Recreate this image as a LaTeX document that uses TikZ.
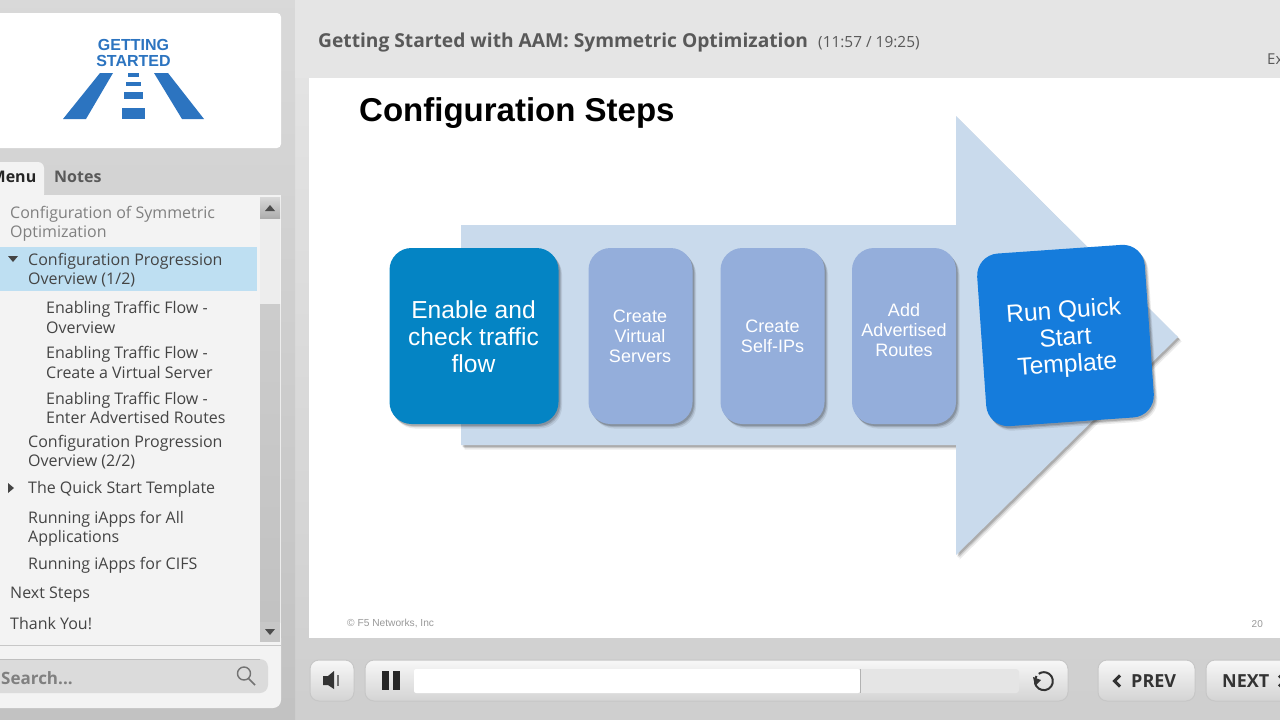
\documentclass[tikz,border=0pt]{standalone}
\usepackage{fontspec}
\setmainfont{Liberation Sans}
\newfontfamily\uifont{Open Sans}
\usetikzlibrary{shadows}
\definecolor{arrowblue}{HTML}{C9DAEC}
\definecolor{stepdeep}{HTML}{0484C4}
\definecolor{steppale}{HTML}{94AEDB}
\definecolor{stepbright}{HTML}{157CDC}
\definecolor{logoblue}{HTML}{2C74C0}
\definecolor{menutext}{HTML}{444444}
\definecolor{menupanel}{HTML}{F3F3F3}
\definecolor{menurow}{HTML}{BEDFF2}
\begin{document}
\begin{tikzpicture}[x=1pt,y=-1pt]
	\tikzset{>=latex}
	\tikzset{softshadow/.style={drop shadow={shadow xshift=3.5pt,shadow yshift=-4.5pt,opacity=0.08,fill=black},drop shadow={shadow xshift=2.5pt,shadow yshift=-3pt,opacity=0.12,fill=black},drop shadow={shadow xshift=1.5pt,shadow yshift=-2pt,opacity=0.16,fill=black}}}
	\tikzset{stepbox/.style={rectangle,rounded corners=22pt,inner sep=0pt,softshadow}}
	\tikzset{smallstep/.style={stepbox,fill=steppale,minimum width=104pt,minimum height=176pt}}
	\tikzset{steptext/.style={inner sep=0pt,text=white,align=center,font=\fontsize{18}{20}\selectfont}}
	\tikzset{bigtext/.style={steptext,font=\fontsize{24.6}{27}\selectfont}}
	\tikzset{menuitem/.style={anchor=west,inner sep=0pt,align=left,text=menutext,font=\uifont\fontsize{16}{19.2}\selectfont}}
	\tikzset{ctrlbtn/.style={draw=black!22,rounded corners=9pt,top color=black!3,bottom color=black!17,line width=1pt}}
	\tikzset{btnlabel/.style={inner sep=0pt,text=black!80,font=\uifont\bfseries\fontsize{18}{20}\selectfont}}
	\clip (0,0) rectangle (1280,720);
	% window
	\fill[top color=black!10,bottom color=black!19] (295,0) rectangle (1280,720);
	\fill[top color=black!15,bottom color=black!24] (0,0) rectangle (295,720);
	\fill[black!10] (295,0) rectangle (1280,78);
	% logo card
	\fill[white,rounded corners=4pt] (-10,13) rectangle (281,148);
	\node[inner sep=0pt,align=center,text=logoblue,font=\bfseries\fontsize{16}{16}\selectfont] (logotext) at (133.5,53) {GETTING\\STARTED};
	\fill[logoblue] (63,119) -- (86,119) -- (113,73) -- (100,73) -- cycle;
	\fill[logoblue] (154,73) -- (168,73) -- (204,119) -- (182,119) -- cycle;
	\fill[logoblue] (128,73) rectangle (139,77);
	\fill[logoblue] (126,82) rectangle (141,86);
	\fill[logoblue] (124,92) rectangle (143,99);
	\fill[logoblue] (122,108) rectangle (145,119);
	% menu panel
	\fill[menupanel] (-10,195) rectangle (281,640);
	\fill[menupanel,rounded corners=8pt] (-10,630) rectangle (281,708);
	\fill[menupanel,rounded corners=6pt] (-10,162) rectangle (44,200);
	\node[menuitem,font=\uifont\bfseries\fontsize{16}{19}\selectfont,text=black!85] (tabmenu) at (-9.5,176.5) {Menu};
	\node[menuitem,font=\uifont\bfseries\fontsize{16}{19}\selectfont,text=black!65] (tabnotes) at (54,176.5) {Notes};
	\fill[menurow] (0,247) rectangle (257,291);
	\draw[black!22,line width=1pt] (0,645) -- (281,645);
	% scroll bar
	\fill[black!7] (260,197) rectangle (280,642);
	\fill[top color=black!20,bottom color=black!24] (260,304) rectangle (280,622);
	\fill[top color=black!15,bottom color=black!32] (260,197) rectangle (280,218);
	\fill[black!22] (260,622) rectangle (280,642);
	\fill[black!70] (265,211) -- (275,211) -- (270,205) -- cycle;
	\fill[black!70] (265,629) -- (275,629) -- (270,635) -- cycle;
	% menu entries
	\node[menuitem,text=black!50] (entry1) at (10,223.5) {Configuration of Symmetric\\Optimization};
	\node[menuitem] (entry2) at (28,270.5) {Configuration Progression\\Overview (1/2)};
	\node[menuitem] (entry3) at (46,317.5) {Enabling Traffic Flow -\\Overview};
	\node[menuitem] (entry4) at (46,362.5) {Enabling Traffic Flow -\\Create a Virtual Server};
	\node[menuitem] (entry5) at (46,408) {Enabling Traffic Flow -\\Enter Advertised Routes};
	\node[menuitem] (entry6) at (28,452.5) {Configuration Progression\\Overview (2/2)};
	\node[menuitem] (entry7) at (28,489.5) {The Quick Start Template};
	\node[menuitem] (entry8) at (28,528.5) {Running iApps for All\\Applications};
	\node[menuitem] (entry9) at (28,565.5) {Running iApps for CIFS};
	\node[menuitem] (entry10) at (10,594.5) {Next Steps};
	\node[menuitem] (entry11) at (10,623.5) {Thank You!};
	\fill[menutext] (8,256) -- (18,256) -- (13,262) -- cycle;
	\fill[menutext] (8,483) -- (14,488) -- (8,493) -- cycle;
	% search field
	\fill[black!14,rounded corners=8pt] (-10,659) rectangle (268,693);
	\draw[black!25,line width=1pt] (-10,659) -- (260,659);
	\node[menuitem,font=\uifont\bfseries\fontsize{17}{19}\selectfont,text=black!50] (searchtext) at (1,678) {Search...};
	\draw[black!55,line width=1.4pt] (244,673.5) circle (6.5);
	\draw[black!55,line width=1.6pt] (248.5,678.5) -- (255,685);
	% header
	\node[anchor=west,inner sep=0pt,text=black!65,font=\uifont\bfseries\fontsize{19.2}{22}\selectfont] (pagetitle) at (318,43) {Getting Started with AAM: Symmetric Optimization};
	\node[anchor=west,inner sep=0pt,text=black!65,font=\uifont\fontsize{15.4}{18}\selectfont] (pagetime) at (818,43.5) {(11:57 / 19:25)};
	\node[anchor=west,inner sep=0pt,text=black!65,font=\uifont\fontsize{15}{18}\selectfont] (exitlabel) at (1267,59) {Ex};
	% slide
	\fill[white] (309,78) rectangle (1280,638);
	\node[anchor=west,inner sep=0pt,font=\bfseries\fontsize{33}{36}\selectfont] (slidetitle) at (359,113.5) {Configuration Steps};
	\node[anchor=west,inner sep=0pt,text=black!40,font=\fontsize{10.2}{12}\selectfont] (copyright) at (347,623.5) {\textcopyright{} F5 Networks, Inc};
	\node[anchor=east,inner sep=0pt,text=black!40,font=\fontsize{10}{12}\selectfont] (pagenum) at (1263,624) {20};
	% big arrow
	\fill[arrowblue,softshadow] (461,225) -- (956,225) -- (956,116) -- (1178,337) -- (956,555) -- (956,445) -- (461,445) -- cycle;
	% steps
	\node[stepbox,fill=stepdeep,minimum width=169pt,minimum height=176pt] (stepflow) at (474,336) {};
	\node[bigtext] (flowtext) at (473.5,336.5) {Enable and\\check traffic\\flow};
	\node[smallstep] (stepserver) at (640.5,336) {};
	\node[steptext] (servertext) at (640,336) {Create\\Virtual\\Servers};
	\node[smallstep] (stepself) at (772.5,336) {};
	\node[steptext] (selftext) at (772.5,336) {Create\\Self-IPs};
	\node[smallstep] (steproute) at (904,336) {};
	\node[steptext] (routetext) at (904,330.5) {Add\\Advertised\\Routes};
	\node[stepbox,fill=stepbright,minimum width=168pt,minimum height=173pt,rotate=4] (stepquick) at (1065.5,335.5) {};
	\node[bigtext,rotate=4] (quicktext) at (1065.5,339) {Run Quick\\Start\\Template};
	% player bar
	\draw[ctrlbtn] (310,660) rectangle (354,701);
	\fill[black!80] (323,676) -- (328,676) -- (334,671) -- (334,689) -- (328,685) -- (323,685) -- cycle;
	\fill[black!55] (337,675) rectangle (339,686);
	\draw[ctrlbtn] (365,660) rectangle (1068,701);
	\fill[black!85] (382,671) rectangle (389,690);
	\fill[black!85] (393,671) rectangle (400,690);
	\fill[black!10,rounded corners=3pt] (414,669) rectangle (1019,693);
	\fill[white,rounded corners=2pt] (414,669) rectangle (860,693);
	\draw[black!30] (860,669) -- (860,693);
	\draw[black!80,line width=2pt] (1036.5,676) arc (215:-125:9);
	\fill[black!80] (1033,677) -- (1041,680) -- (1035,686) -- cycle;
	\draw[ctrlbtn] (1098,660) rectangle (1195,701);
	\node[btnlabel,anchor=west] (prevlabel) at (1131,681) {PREV};
	\draw[black!80,line width=3pt] (1120,675.5) -- (1114.5,681) -- (1120,686.5);
	\draw[ctrlbtn] (1206,660) rectangle (1300,701);
	\node[btnlabel,anchor=west] (nextlabel) at (1222,681) {NEXT};
	\draw[black!80,line width=3pt] (1279,675.5) -- (1284.5,681) -- (1279,686.5);
\end{tikzpicture}
\end{document}
